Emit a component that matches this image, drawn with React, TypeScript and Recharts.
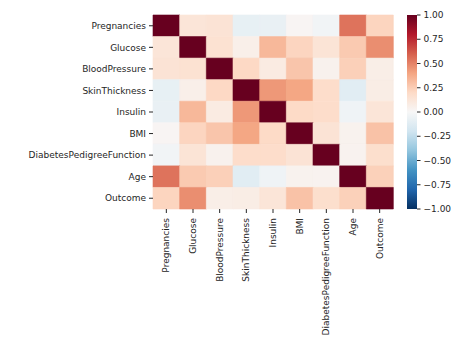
import { BarChart, Bar, XAxis, YAxis, Cell } from 'recharts';

const labels = [
    'Pregnancies',
    'Glucose',
    'BloodPressure',
    'SkinThickness',
    'Insulin',
    'BMI',
    'DiabetesPedigreeFunction',
    'Age',
    'Outcome',
];

// correlation rows, one per variable (same order as labels)
const pregnancies = [1, 0.129, 0.141, -0.082, -0.074, 0.018, -0.034, 0.544, 0.222];
const glucose = [0.129, 1, 0.153, 0.057, 0.331, 0.221, 0.137, 0.264, 0.467];
const bloodPressure = [0.141, 0.153, 1, 0.207, 0.089, 0.282, 0.041, 0.24, 0.065];
const skinThickness = [-0.082, 0.057, 0.207, 1, 0.437, 0.393, 0.184, -0.114, 0.075];
const insulin = [-0.074, 0.331, 0.089, 0.437, 1, 0.198, 0.185, -0.042, 0.131];
const bmi = [0.018, 0.221, 0.282, 0.393, 0.198, 1, 0.141, 0.036, 0.293];
const pedigree = [-0.034, 0.137, 0.041, 0.184, 0.185, 0.141, 1, 0.034, 0.174];
const age = [0.544, 0.264, 0.24, -0.114, -0.042, 0.036, 0.034, 1, 0.238];
const outcome = [0.222, 0.467, 0.065, 0.075, 0.131, 0.293, 0.174, 0.238, 1];

const rows = [pregnancies, glucose, bloodPressure, skinThickness, insulin, bmi, pedigree, age, outcome];

const colorbarTicks = [-1, -0.75, -0.5, -0.25, 0, 0.25, 0.5, 0.75, 1];

// RdBu_r
const palette = [
    '#053061', '#2166ac', '#4393c3', '#92c5de', '#d1e5f0', '#f7f7f7',
    '#fddbc7', '#f4a582', '#d6604d', '#b2182b', '#67001f',
];

const hexToRgb = (h: string) => [
    parseInt(h.slice(1, 3), 16),
    parseInt(h.slice(3, 5), 16),
    parseInt(h.slice(5, 7), 16),
];

const colorFor = (v: number) => {
    const t = Math.max(0, Math.min(1, (v + 1) / 2)) * (palette.length - 1);
    const i = Math.min(Math.floor(t), palette.length - 2);
    const f = t - i;
    const a = hexToRgb(palette[i]);
    const b = hexToRgb(palette[i + 1]);
    const c = a.map((x, k) => Math.round(x + (b[k] - x) * f));
    return `rgb(${c[0]},${c[1]},${c[2]})`;
};

// one entry per column, each row stacked as a unit-height block
const heatData = labels.map((name) => {
    const d: Record<string, any> = { name };
    rows.forEach((_, r) => { d[`r${r}`] = 1; });
    return d;
});

const cbarData = [{ name: 'cbar', range: [-1, 1] }];

const font = 'DejaVu Sans, sans-serif';
const textColor = '#262626';
const fontSize = 9;

const RotatedTick = ({ x, y, payload }: any) => (
    <text
        x={x}
        y={y}
        transform={`rotate(-90, ${x}, ${y})`}
        textAnchor="end"
        dominantBaseline="central"
        fontSize={fontSize}
        fontFamily={font}
        fill={textColor}
    >
        {payload.value}
    </text>
);

const fmt = (v: number) => (v < 0 ? '\u2212' : '') + Math.abs(v).toFixed(2);

export default function App() {
    return (
        <div style={{ position: 'fixed', left: 0, top: 0, width: 474, height: 348, background: '#fff' }}>
            <div style={{ position: 'absolute', left: 0, top: 0 }}>
                <BarChart
                    width={474}
                    height={348}
                    data={heatData}
                    margin={{ top: 15, right: 81, left: 0, bottom: 0 }}
                    barCategoryGap={0}
                    barGap={0}
                >
                    <XAxis
                        dataKey="name"
                        type="category"
                        interval={0}
                        height={139}
                        axisLine={false}
                        tickSize={4}
                        tickMargin={5}
                        tickLine={{ stroke: textColor }}
                        tick={<RotatedTick />}
                    />
                    <YAxis
                        type="number"
                        domain={[0, 9]}
                        reversed
                        width={153}
                        ticks={[0.5, 1.5, 2.5, 3.5, 4.5, 5.5, 6.5, 7.5, 8.5]}
                        tickFormatter={(v: number) => labels[Math.floor(v)]}
                        interval={0}
                        axisLine={false}
                        tickSize={4}
                        tickMargin={3}
                        tickLine={{ stroke: textColor }}
                        tick={{ fontSize, fontFamily: font, fill: textColor }}
                    />
                    {rows.map((row, r) => (
                        <Bar key={r} dataKey={`r${r}`} stackId="h" isAnimationActive={false}>
                            {row.map((v, c) => (
                                <Cell key={c} fill={colorFor(v)} stroke={colorFor(v)} strokeWidth={0.6} />
                            ))}
                        </Bar>
                    ))}
                </BarChart>
            </div>
            <div style={{ position: 'absolute', left: 400, top: 0 }}>
                <BarChart
                    width={74}
                    height={348}
                    data={cbarData}
                    margin={{ top: 15, right: 0, left: 7, bottom: 139 }}
                    barCategoryGap={0}
                >
                    <defs>
                        <linearGradient id="cbarGrad" x1="0" y1="1" x2="0" y2="0">
                            {palette.map((c, i) => (
                                <stop key={i} offset={`${(i / (palette.length - 1)) * 100}%`} stopColor={c} />
                            ))}
                        </linearGradient>
                    </defs>
                    <XAxis dataKey="name" hide />
                    <YAxis
                        orientation="right"
                        type="number"
                        domain={[-1, 1]}
                        ticks={colorbarTicks}
                        interval={0}
                        width={57}
                        axisLine={false}
                        tickSize={3.5}
                        tickMargin={3}
                        tickLine={{ stroke: textColor }}
                        tickFormatter={fmt}
                        tick={{ fontSize, fontFamily: font, fill: textColor }}
                    />
                    <Bar dataKey="range" fill="url(#cbarGrad)" isAnimationActive={false} />
                </BarChart>
            </div>
        </div>
    );
}
